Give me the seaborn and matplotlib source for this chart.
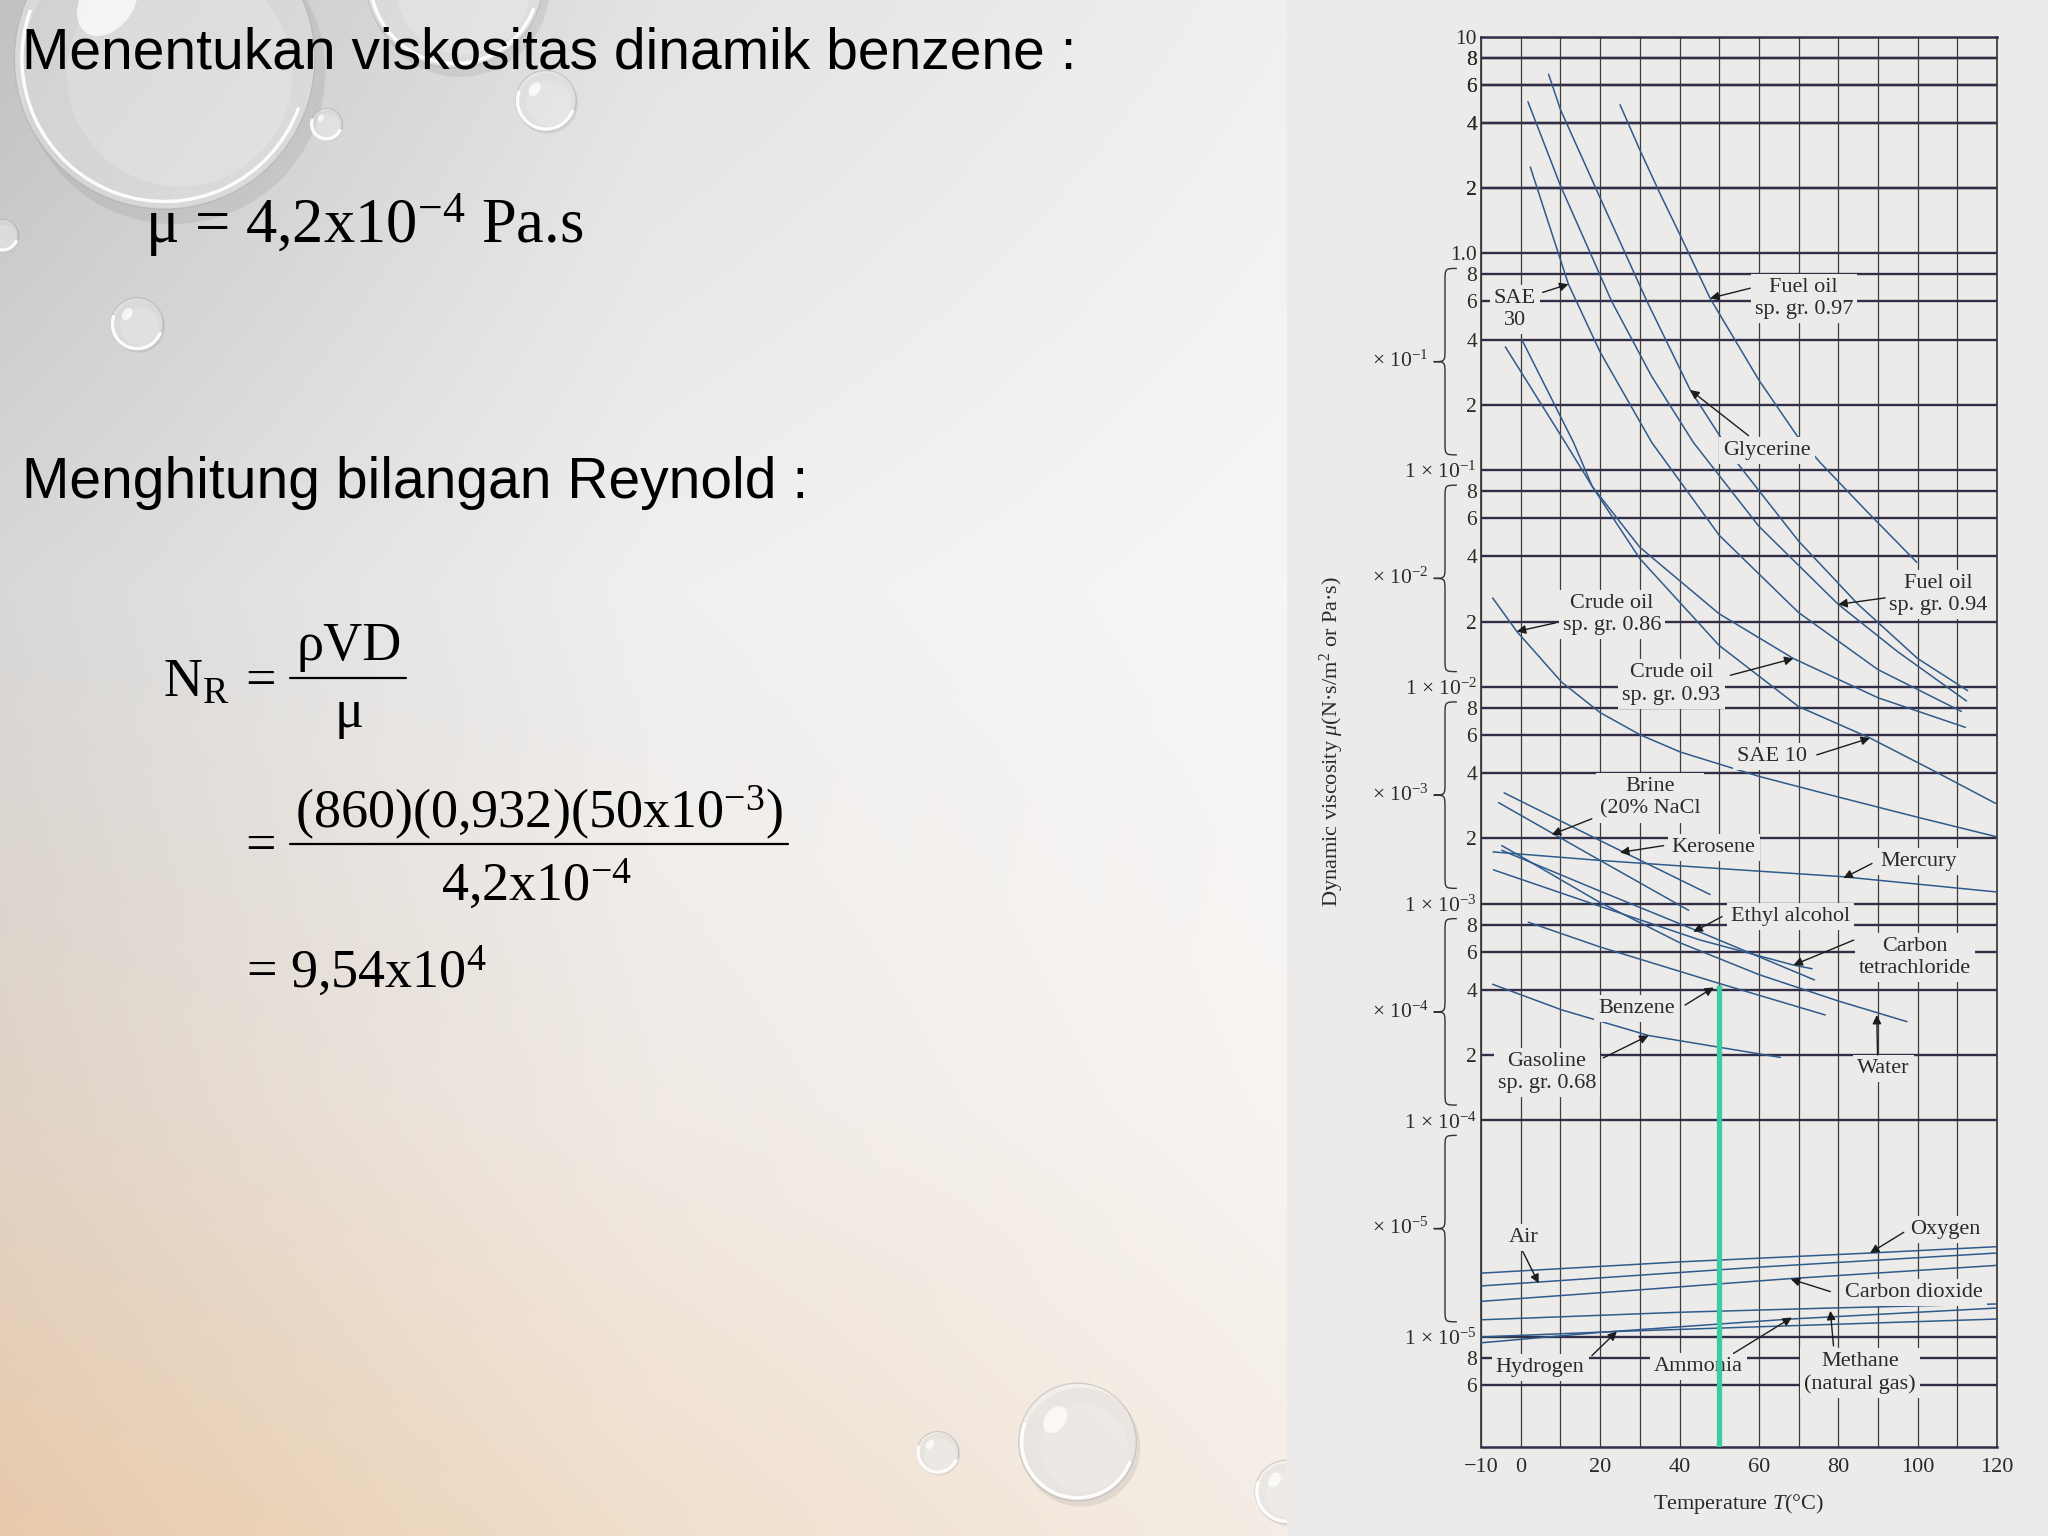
import numpy as np
import pandas as pd
import matplotlib
matplotlib.use("Agg")
import matplotlib.pyplot as plt
from matplotlib.patches import Circle, Ellipse, Rectangle, PathPatch, Arc
from matplotlib.path import Path
import matplotlib.transforms as mtransforms
import seaborn as sns

# -------------------------------
# CURVE DATA  (T in deg C, mu in Pa.s)
# -------------------------------
glycerine_T = [7, 10, 20, 31.8, 42.7, 49.8, 54.5, 70, 85, 100, 112.6]
glycerine_mu = [6.7, 4.6, 1.8, 0.6, 0.234, 0.147, 0.108, 0.047, 0.024, 0.0135, 0.0096]

fuel97_T = [25, 30, 35, 40, 47.7, 60, 69.6, 75.5, 87, 99.8]
fuel97_mu = [4.85, 3.0, 1.9, 1.23, 0.62, 0.26, 0.144, 0.108, 0.065, 0.0375]

fuel94_T = [1.8, 10, 22.9, 33, 43.5, 60, 80, 95, 112.3]
fuel94_mu = [5.0, 2.05, 0.6, 0.27, 0.134, 0.055, 0.024, 0.0145, 0.0086]

sae30_T = [2.4, 12, 20, 33, 50, 70, 90, 111]
sae30_mu = [2.5, 0.72, 0.35, 0.134, 0.05, 0.022, 0.012, 0.0077]

crude93_T = [-3.9, 11.2, 18, 30, 50, 68.7, 90, 112]
crude93_mu = [0.37, 0.134, 0.084, 0.044, 0.0217, 0.0135, 0.0089, 0.0065]

sae10_T = [0.25, 13.3, 18, 30, 50, 70, 88, 104, 119.6]
sae10_mu = [0.40, 0.134, 0.084, 0.039, 0.0155, 0.0081, 0.0058, 0.0041, 0.0029]

crude86_T = [-7.1, -1, 10.3, 20, 30.1, 40.2, 60, 80, 100, 120]
crude86_mu = [0.0257, 0.018, 0.0105, 0.0076, 0.006, 0.005, 0.00386, 0.0031, 0.0025, 0.00203]

kerosene_T = [-4.2, 20, 47.7]
kerosene_mu = [0.00324, 0.00195, 0.0011]

brine_T = [-5.6, 20, 42.3]
brine_mu = [0.00292, 0.00158, 0.00093]

mercury_T = [-7, 20, 50, 81, 120]
mercury_mu = [0.00173, 0.00158, 0.00145, 0.00133, 0.00113]

ethanol_T = [-4.8, 20, 43.5, 74]
ethanol_mu = [0.00176, 0.00114, 0.00076, 0.000444]

water_T = [-4.8, 0, 10, 20, 40, 60, 80, 97.3]
water_mu = [0.00185, 0.00165, 0.00129, 0.00101, 0.00066, 0.00047, 0.000355, 0.000285]

ccl4_T = [-6.9, 20, 45, 68.7, 73.4]
ccl4_mu = [0.00143, 0.00097, 0.00068, 0.00052, 0.0005]

benzene_T = [1.9, 20, 49.6, 76.7]
benzene_mu = [0.00082, 0.00063, 0.00043, 0.000306]

gasoline_T = [-7.1, 10.3, 32.2, 65.4]
gasoline_mu = [0.000424, 0.000323, 0.000246, 0.000195]

oxygen_T = [-10, 40, 88, 120]
oxygen_mu = [1.97e-5, 2.22e-5, 2.44e-5, 2.61e-5]

air_T = [-10, 4, 60, 120]
air_mu = [1.72e-5, 1.79e-5, 2.1e-5, 2.44e-5]

co2_T = [-10, 30, 68, 120]
co2_mu = [1.46e-5, 1.65e-5, 1.86e-5, 2.14e-5]

methane_T = [-10, 40, 78, 120]
methane_mu = [1.2e-5, 1.3e-5, 1.36e-5, 1.42e-5]

ammonia_T = [-10, 20, 68, 120]
ammonia_mu = [0.94e-5, 1.05e-5, 1.21e-5, 1.36e-5]

hydrogen_T = [-10, 24, 70, 120]
hydrogen_mu = [1.0e-5, 1.06e-5, 1.13e-5, 1.21e-5]

# benzene reading at 50 C (green line)
read_T = 50
read_mu = 4.2e-4

curves = {
    "Glycerine": (glycerine_T, glycerine_mu),
    "Fuel oil 0.97": (fuel97_T, fuel97_mu),
    "Fuel oil 0.94": (fuel94_T, fuel94_mu),
    "SAE 30": (sae30_T, sae30_mu),
    "Crude oil 0.93": (crude93_T, crude93_mu),
    "SAE 10": (sae10_T, sae10_mu),
    "Crude oil 0.86": (crude86_T, crude86_mu),
    "Kerosene": (kerosene_T, kerosene_mu),
    "Brine": (brine_T, brine_mu),
    "Mercury": (mercury_T, mercury_mu),
    "Ethyl alcohol": (ethanol_T, ethanol_mu),
    "Water": (water_T, water_mu),
    "Carbon tetrachloride": (ccl4_T, ccl4_mu),
    "Benzene": (benzene_T, benzene_mu),
    "Gasoline": (gasoline_T, gasoline_mu),
    "Oxygen": (oxygen_T, oxygen_mu),
    "Air": (air_T, air_mu),
    "Carbon dioxide": (co2_T, co2_mu),
    "Methane": (methane_T, methane_mu),
    "Ammonia": (ammonia_T, ammonia_mu),
    "Hydrogen": (hydrogen_T, hydrogen_mu),
}

rows = []
for name, (ts, ms) in curves.items():
    for t, m in zip(ts, ms):
        rows.append({"fluid": name, "T": t, "mu": m})
df = pd.DataFrame(rows)

# label text, text centre, arrow tail, arrow tip  (data coords)
notes = [
    ("SAE\n30", (-1.5, 0.55), (5.5, 0.66), (12, 0.72)),
    ("Fuel oil\nsp. gr. 0.97", (71.3, 0.62), (57.8, 0.69), (47.7, 0.62)),
    ("Glycerine", (62, 0.123), (57.4, 0.144), (42.7, 0.234)),
    ("Fuel oil\nsp. gr. 0.94", (105.3, 0.0266), (91.8, 0.0257), (80, 0.024)),
    ("Crude oil\nsp. gr. 0.86", (23, 0.0215), (8.7, 0.0197), (-1, 0.018)),
    ("Crude oil\nsp. gr. 0.93", (38, 0.0103), (52.8, 0.0113), (68.7, 0.0135)),
    ("SAE 10", (63.3, 0.00475), (74.6, 0.00485), (88, 0.0058)),
    ("Brine\n(20% NaCl", (32.6, 0.00307), (17.9, 0.00246), (7.8, 0.00208)),
    ("Kerosene", (48.6, 0.00182), (36, 0.00185), (25, 0.00172)),
    ("Mercury", (100.3, 0.00156), (88.5, 0.00153), (81.3, 0.00131)),
    ("Ethyl alcohol", (67.9, 0.00087), (50.7, 0.00087), (43.5, 0.00074)),
    ("Carbon\ntetrachloride", (99.4, 0.000564), (83.9, 0.000678), (68.7, 0.00052)),
    ("Benzene", (29.2, 0.000329), (41.4, 0.00034), (48.6, 0.00041)),
    ("Water", (91.4, 0.000174), (89.9, 0.0002), (89.7, 0.000306)),
    ("Gasoline\nsp. gr. 0.68", (6.6, 0.000166), (20.8, 0.000194), (32.2, 0.000246)),
    ("Air", (0.7, 2.89e-5), (0.5, 2.48e-5), (4.5, 1.77e-5)),
    ("Oxygen", (107, 3.14e-5), (96.5, 3.04e-5), (88, 2.44e-5)),
    ("Carbon dioxide", (99, 1.61e-5), (78, 1.62e-5), (68, 1.85e-5)),
    ("Methane\n(natural gas)", (85.5, 6.8e-6), (78.8, 9.1e-6), (78, 1.32e-5)),
    ("Ammonia", (44.8, 7.3e-6), (53.6, 8.4e-6), (68.3, 1.23e-5)),
    ("Hydrogen", (4.9, 7.2e-6), (17.9, 8.2e-6), (24.2, 1.06e-5)),
]

x_ticks = [-10, 0, 20, 40, 60, 80, 100, 120]
x_tick_labels = ["\u221210", "0", "20", "40", "60", "80", "100", "120"]
x_minor = [10, 30, 50, 70, 90, 110]

y_ticks = [10, 8, 6, 4, 2, 1]
y_tick_labels = ["10", "8", "6", "4", "2", "1.0"]
for k in range(1, 6):
    for m in [8, 6, 4, 2]:
        y_ticks.append(m * 10.0 ** (1 - k))
        y_tick_labels.append(str(m))
    y_ticks.append(10.0 ** (-k))
    y_tick_labels.append("1 \u00d7 10$^{\\mathrm{-%d}}$" % k)
y_ticks += [8e-6, 6e-6]
y_tick_labels += ["8", "6"]

# -------------------------------
# STYLE
# -------------------------------
sns.set_style("white")
plt.rcParams['font.family'] = ['Liberation Serif', 'DejaVu Serif']
plt.rcParams['mathtext.fontset'] = 'custom'
plt.rcParams['mathtext.rm'] = 'Liberation Serif'
plt.rcParams['mathtext.it'] = 'Liberation Serif:italic'
plt.rcParams['mathtext.bf'] = 'Liberation Serif:bold'
plt.rcParams['text.color'] = 'black'

curve_color = "#2f5a8c"
grid_h = "#332e48"
grid_v = "#3c3c3c"
panel_color = "#ecebe9"
green = "#3ccba2"
chart_text = "#2a2a2a"

fig = plt.figure(figsize=(20.48, 15.36), dpi=100)

# -------------------------------
# SLIDE BACKGROUND (display frame 1568 x 1176)
# -------------------------------
W, H = 1568, 1176
bg = fig.add_axes([0, 0, 1, 1])
bg.set_xlim(0, W)
bg.set_ylim(H, 0)
bg.axis("off")

gx = [0, 500, 985, W]
gy = [0, 450, 850, H]
ctrl = np.array([
    [[0.76, 0.76, 0.76], [0.89, 0.89, 0.89], [0.94, 0.94, 0.94], [0.94, 0.94, 0.94]],
    [[0.85, 0.85, 0.85], [0.94, 0.94, 0.94], [0.965, 0.965, 0.965], [0.965, 0.965, 0.965]],
    [[0.88, 0.83, 0.78], [0.945, 0.92, 0.90], [0.97, 0.955, 0.945], [0.97, 0.955, 0.945]],
    [[0.91, 0.79, 0.67], [0.94, 0.875, 0.80], [0.96, 0.93, 0.90], [0.96, 0.93, 0.90]],
])
xs = np.linspace(0, W, 240)
ys = np.linspace(0, H, 180)
row_i = np.array([[np.interp(xs, gx, ctrl[j, :, c]) for c in range(3)] for j in range(len(gy))])
img = np.empty((len(ys), len(xs), 3))
for c in range(3):
    for i in range(len(xs)):
        img[:, i, c] = np.interp(ys, gy, row_i[:, c, i])
bg.imshow(img, extent=[0, W, H, 0], aspect="auto", zorder=0, interpolation="bilinear")


def drop(cx, cy, r):
    # soft shadow, glassy body, bright lower rim and a highlight
    bg.add_patch(Circle((cx + 0.06 * r, cy + 0.09 * r), r * 1.01, fc="#4a4a4a", ec="none", alpha=0.10, zorder=2))
    bg.add_patch(Circle((cx, cy), r, fc="#f4f4f4", ec="#a2a2a2", lw=0.9, alpha=0.45, zorder=2))
    bg.add_patch(Circle((cx + 0.1 * r, cy + 0.1 * r), 0.75 * r, fc="white", ec="none", alpha=0.18, zorder=2))
    bg.add_patch(Arc((cx, cy), 1.9 * r, 1.9 * r, theta1=20, theta2=200, ec="white", lw=2.4,
                     alpha=0.95, zorder=2))
    bg.add_patch(Ellipse((cx - 0.38 * r, cy - 0.38 * r), 0.35 * r, 0.5 * r, angle=35,
                         fc="white", ec="none", alpha=0.75, zorder=2))


for cx, cy, r in [(126, 45, 115), (348, -16, 68), (250, 95, 12), (418, 77, 23),
                  (105, 248, 20), (2, 180, 12), (825, 1104, 45), (718, 1112, 16), (985, 1142, 24)]:
    drop(cx, cy, r)

bg.add_patch(Rectangle((985, 0), W - 985, H, fc=panel_color, ec="none", zorder=3))

# -------------------------------
# SLIDE TEXT
# -------------------------------
fig.text(0.0105, 0.9557, "Menentukan viskositas dinamik benzene :", fontsize=41,
         family="Liberation Sans", va="baseline", color="black")
fig.text(0.0105, 0.676, "Menghitung bilangan Reynold :", fontsize=41,
         family="Liberation Sans", va="baseline", color="black")
fig.text(0.0708, 0.842, "\u03bc = 4,2x10$^{\\mathrm{-4}}$ Pa.s", fontsize=45, va="baseline", color="black")

fs = 39
fig.text(0.0797, 0.5468, "N$_{\\mathrm{R}}$", fontsize=fs, va="baseline", color="black")
fig.text(0.1199, 0.5468, "=", fontsize=fs, va="baseline", color="black")
fig.text(0.1703, 0.5706, "\u03c1VD", fontsize=fs, va="baseline", ha="center", color="black")
fig.add_artist(plt.Line2D([0.1416, 0.1983], [0.5587, 0.5587], color="black", lw=1.6))
fig.text(0.1703, 0.5264, "\u03bc", fontsize=fs, va="baseline", ha="center", color="black")

fig.text(0.1199, 0.4396, "=", fontsize=fs, va="baseline", color="black")
fig.text(0.2631, 0.4609, "(860)(0,932)(50x10$^{\\mathrm{-3}}$)", fontsize=fs, va="baseline",
         ha="center", color="black")
fig.add_artist(plt.Line2D([0.1416, 0.3846], [0.4507, 0.4507], color="black", lw=1.6))
fig.text(0.2621, 0.4133, "4,2x10$^{\\mathrm{-4}}$", fontsize=fs, va="baseline", ha="center", color="black")

fig.text(0.1199, 0.3571, "= 9,54x10$^{\\mathrm{4}}$", fontsize=fs, va="baseline", color="black")

# -------------------------------
# VISCOSITY CHART
# -------------------------------
ax = fig.add_axes([0.7232, 0.0578, 0.2519, 0.9184])
ax.set_facecolor("none")
ax.set_zorder(4)

sns.lineplot(data=df, x="T", y="mu", units="fluid", estimator=None,
             color=curve_color, lw=1.1, ax=ax, zorder=3)
ax.set_yscale("log")
ax.set_xlim(-10, 120)
ax.set_ylim(3.1e-6, 10)

ax.set_xticks(x_ticks)
ax.set_xticklabels(x_tick_labels, fontsize=16, color=chart_text)
ax.set_xticks(x_minor, minor=True)
ax.set_yticks(y_ticks)
ax.set_yticklabels(y_tick_labels, fontsize=15.5, color=chart_text)
ax.yaxis.set_minor_locator(matplotlib.ticker.NullLocator())
ax.tick_params(axis="both", which="both", length=0)
ax.tick_params(axis="x", pad=8)
ax.tick_params(axis="y", pad=3)

ax.set_axisbelow(True)
ax.grid(axis="x", which="both", color=grid_v, lw=0.9)
ax.grid(axis="y", which="major", color=grid_h, lw=1.7)
for side in ["top", "bottom"]:
    ax.spines[side].set_color(grid_h)
    ax.spines[side].set_linewidth(1.8)
for side in ["left", "right"]:
    ax.spines[side].set_color("#333333")
    ax.spines[side].set_linewidth(1.2)

ax.set_xlabel("Temperature $T$(\u00b0C)", fontsize=16, color=chart_text)
ax.xaxis.set_label_coords(0.5, -0.032)
ax.set_ylabel("Dynamic viscosity $\\mu$(N\u00b7s/m$^{\\mathrm{2}}$ or Pa\u00b7s)", fontsize=16, color=chart_text)
ax.yaxis.set_label_coords(-0.262, 0.5)

# braces with multipliers on the left
blend = mtransforms.blended_transform_factory(ax.transAxes, ax.transData)
x_end, x_sp, x_tip = -0.047, -0.07, -0.092
d = 0.06


def p(e):
    return 10.0 ** e


for k in range(1, 6):
    e_top, e_mid, e_bot = -k + 1 - 0.07, -k + 0.5, -k + 0.07
    verts = [(x_end, p(e_top)),
             (x_sp, p(e_top)), (x_sp, p(e_top)), (x_sp, p(e_top - d)),
             (x_sp, p(e_mid + d)),
             (x_sp, p(e_mid)), (x_sp, p(e_mid)), (x_tip, p(e_mid)),
             (x_sp, p(e_mid)), (x_sp, p(e_mid)), (x_sp, p(e_mid - d)),
             (x_sp, p(e_bot + d)),
             (x_sp, p(e_bot)), (x_sp, p(e_bot)), (x_end, p(e_bot))]
    codes = [Path.MOVETO, Path.CURVE4, Path.CURVE4, Path.CURVE4, Path.LINETO,
             Path.CURVE4, Path.CURVE4, Path.CURVE4, Path.CURVE4, Path.CURVE4, Path.CURVE4,
             Path.LINETO, Path.CURVE4, Path.CURVE4, Path.CURVE4]
    ax.add_patch(PathPatch(Path(verts, codes), transform=blend, fc="none", ec="#333333",
                           lw=1.0, clip_on=False))
    ax.text(-0.102, p(e_mid), "\u00d7 10$^{\\mathrm{-%d}}$" % k, transform=blend,
            ha="right", va="center", fontsize=15.5, color=chart_text)

# labels and arrows
for text, (tx, ty), tail, tip in notes:
    ax.annotate("", xy=tip, xytext=tail,
                arrowprops=dict(arrowstyle="-|>", color="#1c1c1c", lw=1.0,
                                mutation_scale=13, shrinkA=0, shrinkB=0), zorder=6)
    ax.text(tx, ty, text, ha="center", va="center", fontsize=16, color=chart_text,
            linespacing=1.25, zorder=5,
            bbox=dict(boxstyle="square,pad=0.18", fc=panel_color, ec="none"))

# benzene reading at 50 C
ax.vlines(read_T, ymin=ax.get_ylim()[0], ymax=read_mu, colors=green, lw=3.8, zorder=7)

fig.savefig("out.png", dpi=100)
